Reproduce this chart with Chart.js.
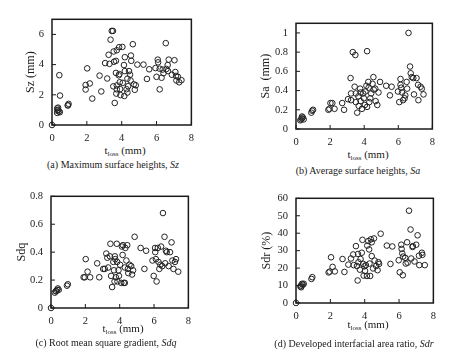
<!DOCTYPE html>
<html>
<head>
<meta charset="utf-8">
<script src="https://cdn.jsdelivr.net/npm/chart.js@4.4.0/dist/chart.umd.min.js"></script>
<style>
  body { margin: 0; background: #fff; }
  #wrap { position: relative; width: 474px; height: 351px; overflow: hidden; font-family: 'Liberation Serif', 'Times New Roman', serif; color: #1a1a1a; }
  canvas { position: absolute; }
  .lbl { position: absolute; transform: translate(-50%, -50%); white-space: nowrap; line-height: 1; }
  .xt { font-size: 11px; }
  .xt sub { font-size: 7px; vertical-align: -2px; }
  .cap { font-size: 10px; }
</style>
</head>
<body>
<div id="wrap">
  <canvas id="cA" width="177" height="136" style="left:24px;top:5px"></canvas>
  <canvas id="cB" width="183" height="136" style="left:259px;top:9px"></canvas>
  <canvas id="cC" width="183" height="142" style="left:15px;top:182px"></canvas>
  <canvas id="cD" width="183" height="135" style="left:260px;top:184px"></canvas>

  <div class="lbl xt" style="left:125px;top:151px">t<sub>loss</sub> (mm)</div>
  <div class="lbl xt" style="left:368px;top:155px">t<sub>loss</sub> (mm)</div>
  <div class="lbl xt" style="left:123px;top:329px">t<sub>loss</sub> (mm)</div>
  <div class="lbl xt" style="left:368px;top:325px">t<sub>loss</sub> (mm)</div>

  <div class="lbl cap" style="left:113px;top:165px">(a) Maximum surface heights, <i>Sz</i></div>
  <div class="lbl cap" style="left:358px;top:171px">(b) Average surface heights, <i>Sa</i></div>
  <div class="lbl cap" style="left:106px;top:343px">(c) Root mean square gradient, <i>Sdq</i></div>
  <div class="lbl cap" style="left:354px;top:344px">(d) Developed interfacial area ratio, <i>Sdr</i></div>
</div>
<script>
const xTicks = [0, 2, 4, 6, 8];
const yTicksA = [0, 2, 4, 6];
const yTicksB = [0, 0.2, 0.4, 0.6, 0.8, 1];
const yTicksC = [0, 0.2, 0.4, 0.6, 0.8];
const yTicksD = [0, 10, 20, 30, 40, 50, 60];

// (a) Sz vs t_loss
const tA = [0, 0.3, 0.35, 0.3, 0.4, 0.45, 0.35, 0.3, 0.42, 0.46, 0.92, 0.95, 0.9,
  2.02, 1.93, 2.17, 1.93, 2.31, 2.73, 2.83, 3.05, 3.17, 3.25, 3.3, 3.36, 3.43, 3.5, 3.54,
  3.56, 3.52, 3.6, 3.67, 3.67, 3.72, 3.72, 3.72, 3.69, 3.85, 3.87, 3.83, 3.89, 3.91, 3.93,
  4.04, 4.06, 4.13, 4.18, 4.15, 4.18, 4.28, 4.33, 4.33, 4.37, 4.42, 4.48, 4.51, 4.53, 4.55,
  4.64, 4.7, 4.81, 4.75, 4.9, 5.25, 5.45, 5.58, 5.94, 6.0, 6.07, 6.09, 6.18, 6.18, 6.29,
  6.35, 6.4, 6.53, 6.57, 6.64, 6.7, 6.66, 6.88, 7.03, 7.08, 7.14, 7.12, 7.23, 7.3, 7.43];
const sz = [0, 1.1, 1.0, 0.8, 0.9, 0.85, 1.15, 0.95, 3.3, 1.95, 1.3, 1.4, 1.3,
  3.75, 2.65, 2.75, 2.35, 1.75, 3.27, 2.22, 4.1, 3.08, 4.65, 4.05, 5.65, 6.23, 6.23, 4.87,
  4.19, 2.56, 1.46, 4.25, 3.45, 4.95, 2.62, 2.36, 2.08, 5.15, 3.37, 3.29, 2.83, 2.38, 1.98,
  5.17, 2.79, 3.97, 4.49, 1.92, 3.57, 2.37, 2.15, 3.07, 2.57, 3.57, 3.33, 2.95, 4.6, 4.25,
  5.35, 2.69, 2.63, 2.33, 4.0, 4.0, 3.05, 3.69, 3.77, 3.19, 4.33, 4.15, 3.73, 2.36, 3.13,
  3.67, 3.43, 5.42, 3.71, 3.97, 4.33, 3.57, 3.33, 4.29, 3.51, 2.95, 3.25, 3.19, 2.83, 2.97];

// (b) Sa vs t_loss
const tB = [0.3, 0.35, 0.4, 0.45, 0.25, 0.35, 0.9, 0.95, 1.0,
  1.9, 1.96, 2.02, 2.13, 2.26, 2.71, 2.82, 3.05, 3.2, 3.23, 3.23, 3.33, 3.48, 3.44, 3.51,
  3.51, 3.59, 3.66, 3.68, 3.76, 3.79, 3.79, 3.87, 3.94, 3.98, 4.04, 4.07, 4.13, 4.17, 4.17,
  4.24, 4.26, 4.3, 4.36, 4.41, 4.49, 4.54, 4.56, 4.65, 4.67, 4.77, 4.84, 4.93, 5.29, 5.51,
  5.61, 5.98, 6.06, 6.13, 6.13, 6.17, 6.22, 6.28, 6.37, 6.41, 6.49, 6.52, 6.6, 6.69, 6.73,
  6.79, 6.88, 6.92, 7.07, 7.16, 7.18, 7.31, 7.38, 7.48];
const sa = [0.1, 0.11, 0.12, 0.1, 0.09, 0.13, 0.17, 0.19, 0.2,
  0.2, 0.21, 0.27, 0.27, 0.21, 0.27, 0.2, 0.31, 0.53, 0.37, 0.3, 0.8, 0.77, 0.44, 0.37,
  0.28, 0.17, 0.34, 0.24, 0.42, 0.38, 0.29, 0.21, 0.37, 0.32, 0.25, 0.39, 0.45, 0.23, 0.81,
  0.49, 0.43, 0.28, 0.32, 0.37, 0.47, 0.54, 0.41, 0.42, 0.29, 0.25, 0.38, 0.49, 0.45, 0.35,
  0.44, 0.39, 0.28, 0.52, 0.46, 0.43, 0.38, 0.3, 0.32, 0.35, 0.49, 0.42, 1.0, 0.65, 0.58,
  0.54, 0.53, 0.36, 0.53, 0.46, 0.3, 0.44, 0.42, 0.36];

// (c) Sdq vs t_loss
const tC = [0, 0.22, 0.28, 0.35, 0.4, 0.3, 0.45, 0.93, 0.98,
  1.9, 1.97, 2.02, 2.13, 2.28, 2.69, 2.81, 3.04, 3.13, 3.22, 3.28, 3.33, 3.43, 3.46, 3.5,
  3.56, 3.63, 3.67, 3.72, 3.74, 3.7, 3.78, 3.83, 3.85, 3.93, 3.87, 3.96, 4.02, 4.09, 4.13,
  4.19, 4.17, 4.24, 4.3, 4.3, 4.33, 4.39, 4.44, 4.48, 4.5, 4.57, 4.67, 4.72, 4.78, 4.87,
  5.22, 5.44, 5.54, 5.91, 5.98, 6.06, 6.07, 6.11, 6.15, 6.22, 6.26, 6.31, 6.37, 6.41, 6.48,
  6.52, 6.61, 6.65, 6.69, 6.74, 6.85, 6.93, 7.02, 7.07, 7.13, 7.22, 7.28, 7.41];
const sdq = [0, 0.11, 0.12, 0.13, 0.14, 0.12, 0.13, 0.16, 0.17,
  0.22, 0.22, 0.35, 0.26, 0.22, 0.32, 0.22, 0.28, 0.28, 0.39, 0.36, 0.29, 0.37, 0.46, 0.23,
  0.15, 0.33, 0.27, 0.37, 0.35, 0.19, 0.22, 0.46, 0.33, 0.27, 0.19, 0.23, 0.31, 0.18, 0.44,
  0.45, 0.38, 0.18, 0.18, 0.29, 0.43, 0.34, 0.45, 0.28, 0.25, 0.31, 0.3, 0.24, 0.27, 0.51,
  0.43, 0.28, 0.41, 0.34, 0.23, 0.43, 0.4, 0.35, 0.19, 0.43, 0.33, 0.28, 0.31, 0.44, 0.3,
  0.68, 0.51, 0.32, 0.41, 0.4, 0.3, 0.4, 0.47, 0.34, 0.28, 0.33, 0.35, 0.26];

// (d) Sdr vs t_loss
const tD = [0, 0.25, 0.3, 0.35, 0.4, 0.45, 0.3, 0.9, 0.95,
  1.9, 1.96, 2.04, 2.13, 2.26, 2.71, 2.82, 3.05, 3.2, 3.33, 3.36, 3.49, 3.55, 3.59, 3.61,
  3.64, 3.72, 3.76, 3.83, 3.87, 3.91, 3.94, 3.98, 4.02, 4.07, 4.13, 4.15, 4.21, 4.26, 4.28,
  4.32, 4.36, 4.41, 4.41, 4.49, 4.54, 4.58, 4.67, 4.75, 4.8, 4.84, 4.93, 5.29, 5.5, 5.61,
  5.98, 6.04, 6.13, 6.15, 6.19, 6.22, 6.24, 6.36, 6.39, 6.47, 6.5, 6.58, 6.67, 6.71, 6.79,
  6.8, 6.9, 7.0, 7.08, 7.16, 7.18, 7.33, 7.36, 7.5];
const sdr = [0, 9.5, 10, 11, 10.5, 11, 9, 13.8, 14.8,
  17.5, 18, 26.2, 20.7, 18.1, 25.2, 17.8, 22, 25.5, 27.8, 21.7, 32.6, 21.2, 12.9, 28.1,
  23.4, 19.1, 25.2, 28.8, 36.2, 22.4, 15.7, 21, 18.4, 21.7, 15.5, 32.9, 35.5, 30.7, 22.6,
  15.5, 36.5, 34.8, 26.9, 19.8, 37, 24.3, 21.2, 18.8, 23.4, 22.4, 39.7, 32.9, 22.4, 32.4,
  24.5, 17.6, 33.4, 31, 28.4, 15.9, 26.6, 25.9, 22.6, 34.8, 23.1, 52.9, 42.1, 25.5, 32.1,
  32.6, 23.8, 33.4, 38.8, 27.1, 21.7, 28.8, 27.6, 21.7];

const FONT = "'Liberation Serif', 'Times New Roman', serif";
const INK = '#1a1a1a';

// box round the plot area plus small inward tick marks on the left and bottom
const framePlugin = {
  id: 'frame',
  beforeDatasetsDraw(chart) {
    const { ctx, chartArea: a, scales } = chart;
    ctx.save();
    ctx.strokeStyle = INK;
    ctx.lineWidth = 1.5;
    ctx.strokeRect(a.left, a.top, a.right - a.left, a.bottom - a.top);
    ctx.lineWidth = 1;
    ctx.beginPath();
    scales.x.ticks.forEach(t => {
      const px = scales.x.getPixelForValue(t.value);
      ctx.moveTo(px, a.bottom);
      ctx.lineTo(px, a.bottom - 4);
    });
    scales.y.ticks.forEach(t => {
      const py = scales.y.getPixelForValue(t.value);
      ctx.moveTo(a.left, py);
      ctx.lineTo(a.left + 4, py);
    });
    ctx.stroke();
    ctx.restore();
  }
};

function makeChart(id, xs, ys, yMax, yTicks, yTitle, yWidth) {
  const pts = xs.map((x, i) => ({ x: x, y: ys[i] }));
  const tickFont = { family: FONT, size: 10.5 };
  return new Chart(document.getElementById(id), {
    type: 'scatter',
    data: {
      datasets: [{
        data: pts,
        pointRadius: 2.8,
        pointBorderWidth: 1,
        pointBorderColor: '#222',
        pointBackgroundColor: 'rgba(255,255,255,0)',
        clip: false
      }]
    },
    options: {
      responsive: false,
      animation: false,
      layout: { padding: { top: 3, right: 3, left: 0, bottom: 0 } },
      plugins: { legend: { display: false }, tooltip: { enabled: false } },
      scales: {
        x: {
          type: 'linear', min: 0, max: 8,
          afterBuildTicks: s => { s.ticks = xTicks.map(v => ({ value: v })); },
          afterFit: s => { s.height = 16; },
          grid: { display: false, drawTicks: false },
          border: { display: false },
          ticks: { padding: 7, color: INK, font: tickFont, callback: v => String(v) }
        },
        y: {
          type: 'linear', min: 0, max: yMax,
          afterBuildTicks: s => { s.ticks = yTicks.map(v => ({ value: v })); },
          afterFit: s => { s.width = yWidth; },
          grid: { display: false, drawTicks: false },
          border: { display: false },
          ticks: { padding: 8, color: INK, font: tickFont, callback: v => String(v) },
          title: { display: true, text: yTitle, color: INK, padding: 0, font: { family: FONT, size: 12 } }
        }
      }
    },
    plugins: [framePlugin]
  });
}

makeChart('cA', tA, sz, 7, yTicksA, 'Sz (mm)', 28);
makeChart('cB', tB, sa, 1.1, yTicksB, 'Sa  (mm)', 37);
makeChart('cC', tC, sdq, 0.8, yTicksC, 'Sdq', 36);
makeChart('cD', tD, sdr, 60, yTicksD, 'Sdr (%)', 36);
</script>
</body>
</html>
